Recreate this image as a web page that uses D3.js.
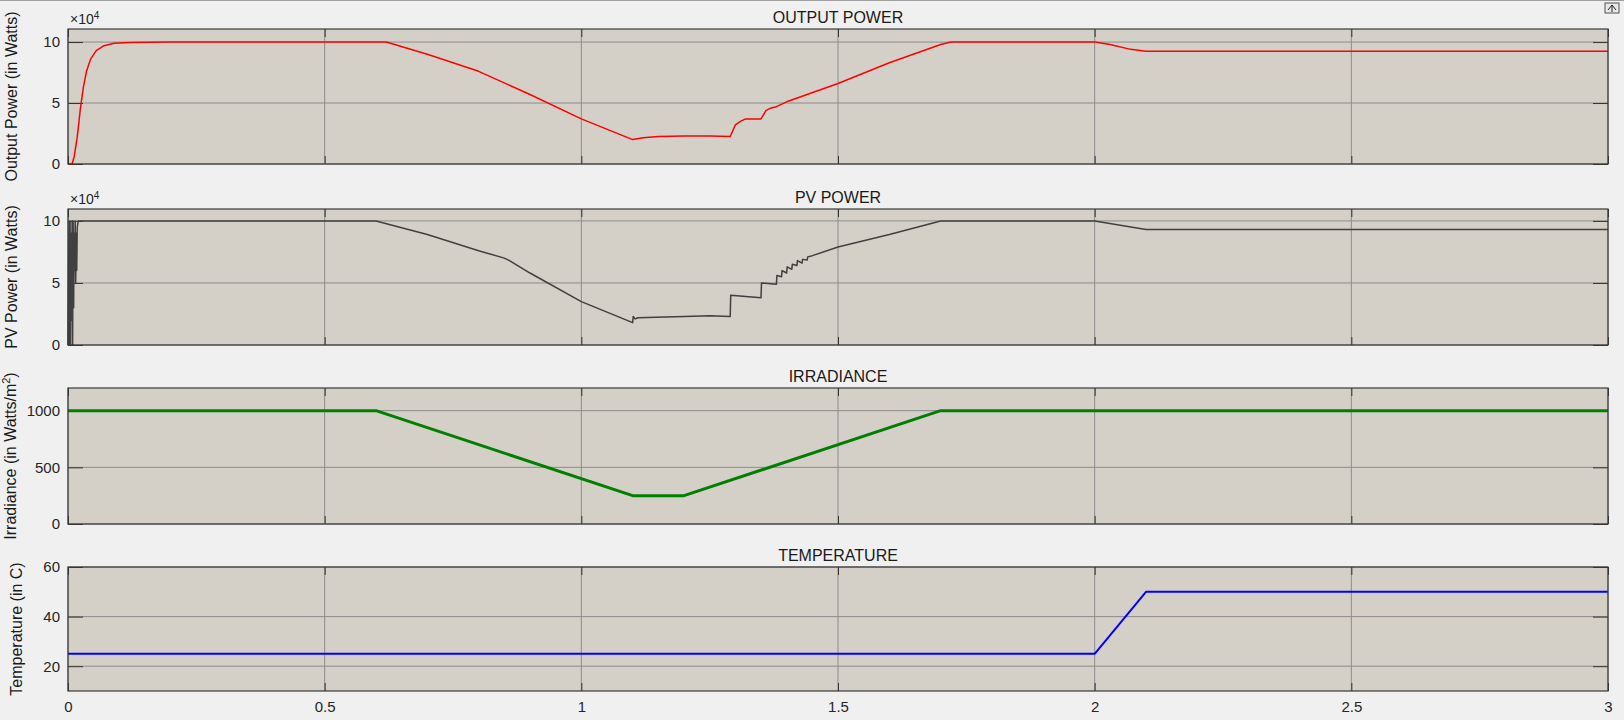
<!DOCTYPE html>
<html><head><meta charset="utf-8">
<script src="https://cdn.jsdelivr.net/npm/d3@7"></script>
<style>body{margin:0;background:#f0f0f0;overflow:hidden}svg{font-family:"Liberation Sans",Arial,sans-serif}</style>
</head><body><svg id="c" width="1624" height="720"></svg>
<script>
const xTicks=[0,0.5,1,1.5,2,2.5,3];
const titles=["OUTPUT POWER","PV POWER","IRRADIANCE","TEMPERATURE"];
const yLabels=["Output Power (in Watts)","PV Power (in Watts)","Irradiance (in Watts/m²)","Temperature (in C)"];
const outT=[0,0.008,0.012,0.018,0.024,0.03,0.036,0.044,0.055,0.07,0.09,0.12,0.2,0.6,0.62,0.7,0.8,0.9,1.0,1.1,1.12,1.15,1.2,1.25,1.29,1.3,1.31,1.32,1.35,1.36,1.37,1.38,1.4,1.5,1.6,1.7,1.72,2.0,2.03,2.07,2.1,3.0];
const outV=[0,0,0.6,2.2,4.5,6.3,7.6,8.6,9.3,9.7,9.9,9.97,10,10,10,9.0,7.6,5.7,3.7,2.0,2.15,2.25,2.3,2.3,2.25,3.2,3.5,3.7,3.7,4.4,4.6,4.7,5.1,6.6,8.3,9.8,10,10,9.8,9.4,9.25,9.25];
const pvT=[0,0.002,0.003,0.004,0.005,0.006,0.007,0.008,0.009,0.010,0.011,0.012,0.013,0.014,0.015,0.016,0.017,0.018,0.02,0.022,0.6,0.7,0.8,0.85,0.86,0.9,1.0,1.1,1.101,1.105,1.11,1.2,1.25,1.29,1.291,1.35,1.351,1.38,1.381,1.39,1.391,1.40,1.401,1.41,1.411,1.42,1.421,1.43,1.431,1.44,1.441,1.45,1.5,1.6,1.7,2.0,2.1,3.0];
const pvV=[0,10,0,10,0,9,2,10,0,10,3,9,6,10,5,9,6,9.5,10,10,10,8.9,7.6,7.0,6.8,5.8,3.5,1.8,2.3,2.1,2.2,2.3,2.35,2.3,4.0,3.8,5.0,4.9,5.6,5.5,6.0,5.8,6.3,6.1,6.5,6.4,6.8,6.6,6.9,6.85,7.1,7.2,7.9,8.9,10,10,9.3,9.3];
const irrT=[0,0.6,1.1,1.2,1.7,3.0];
const irrV=[1000,1000,250,250,1000,1000];
const tmpT=[0,2.0,2.1,3.0];
const tmpV=[25,25,50,50];
const yTicks=[[0,5,10],[0,5,10],[0,500,1000],[20,40,60]];
const yDomains=[[0,11.07],[0,10.96],[0,1200],[10,60]];
const panels=[[29,164],[209,345],[388,524],[567,691]];
const series=[[outT,outV,"#ff0000",1.5],[pvT,pvV,"#404040",1.5],[irrT,irrV,"#007f00",3],[tmpT,tmpV,"#0000ff",2]];
const svg=d3.select("#c");
svg.append("line").attr("x1",0).attr("x2",1624).attr("y1",0.5).attr("y2",0.5).attr("stroke","#a0a0a0");
svg.append("rect").attr("x",1605).attr("y",3).attr("width",14).attr("height",10).attr("fill","#e8e8e8").attr("stroke","#555");
svg.append("path").attr("d","M1608 10 L1612 5 L1616 10 M1612 5 V12").attr("stroke","#222").attr("fill","none");
const x=d3.scaleLinear().domain([0,3]).range([68,1608]);
panels.forEach(([top,bot],i)=>{
  const y=d3.scaleLinear().domain(yDomains[i]).range([bot,top]);
  const g=svg.append("g");
  g.append("rect").attr("x",68).attr("y",top).attr("width",1540).attr("height",bot-top).attr("fill","#d4d0c8");
  xTicks.forEach(t=>g.append("line").attr("x1",x(t)).attr("x2",x(t)).attr("y1",top).attr("y2",bot).attr("stroke","#8c8c8c").attr("stroke-width",1));
  yTicks[i].forEach(t=>g.append("line").attr("x1",68).attr("x2",1608).attr("y1",y(t)).attr("y2",y(t)).attr("stroke","#8c8c8c").attr("stroke-width",1));
  const ay=g.append("g").attr("transform","translate(68,0)").call(d3.axisLeft(y).tickValues(yTicks[i]).tickSize(0).tickPadding(8).tickFormat(d3.format("d")));
  ay.select(".domain").remove();
  ay.selectAll("text").attr("font-size",15).attr("fill","#262626").attr("font-family","Liberation Sans, Arial");
  const ar=g.append("g").attr("transform","translate(1608,0)").call(d3.axisLeft(y).tickValues(yTicks[i]).tickSize(15).tickFormat(""));
  ar.select(".domain").remove(); ar.selectAll("line").attr("stroke","#333");
  const al=g.append("g").attr("transform","translate(68,0)").call(d3.axisRight(y).tickValues(yTicks[i]).tickSize(15).tickFormat(""));
  al.select(".domain").remove(); al.selectAll("line").attr("stroke","#333");
  const ax=g.append("g").attr("transform",`translate(0,${bot})`).call(d3.axisTop(x).tickValues(xTicks).tickSize(8).tickFormat(""));
  ax.select(".domain").remove(); ax.selectAll("line").attr("stroke","#333");
  const ax2=g.append("g").attr("transform",`translate(0,${top})`).call(d3.axisBottom(x).tickValues(xTicks).tickSize(8).tickFormat(""));
  ax2.select(".domain").remove(); ax2.selectAll("line").attr("stroke","#333");
  const [ts,vs,col,w]=series[i];
  g.append("path").datum(ts.map((t,k)=>[t,vs[k]])).attr("fill","none").attr("stroke",col).attr("stroke-width",w).attr("stroke-linejoin","round")
   .attr("d",d3.line().x(d=>x(d[0])).y(d=>y(d[1])));
  g.append("rect").attr("x",68).attr("y",top).attr("width",1540).attr("height",bot-top).attr("fill","none").attr("stroke","#3a3a3a").attr("stroke-width",1.2);
  g.append("text").attr("x",x(1.5)).attr("y",top-6).attr("text-anchor","middle").attr("font-size",16).attr("fill","#1a1a1a").text(titles[i]);
  const lx=[17,17,16,22][i];
  const lt=g.append("text").attr("transform",`translate(${lx},${(top+bot)/2}) rotate(-90)`).attr("text-anchor","middle").attr("font-size",16).attr("fill","#1a1a1a");
  if(i==2){lt.text("Irradiance (in Watts/m");lt.append("tspan").attr("dy",-6).attr("font-size",11).text("2");lt.append("tspan").attr("dy",6).text(")");}
  else lt.text(yLabels[i]);
  if(i<2){const e=g.append("text").attr("x",70).attr("y",top-5).attr("font-size",14).attr("fill","#262626").text("×10");e.append("tspan").attr("dy",-5).attr("font-size",10).text("4");}
});
const xb=svg.append("g").attr("transform","translate(0,691)").call(d3.axisBottom(x).tickValues(xTicks).tickSize(0).tickPadding(10).tickFormat(d=>d));
xb.select(".domain").remove(); xb.selectAll("text").attr("font-size",15).attr("fill","#262626").attr("font-family","Liberation Sans, Arial");
</script></body></html>
